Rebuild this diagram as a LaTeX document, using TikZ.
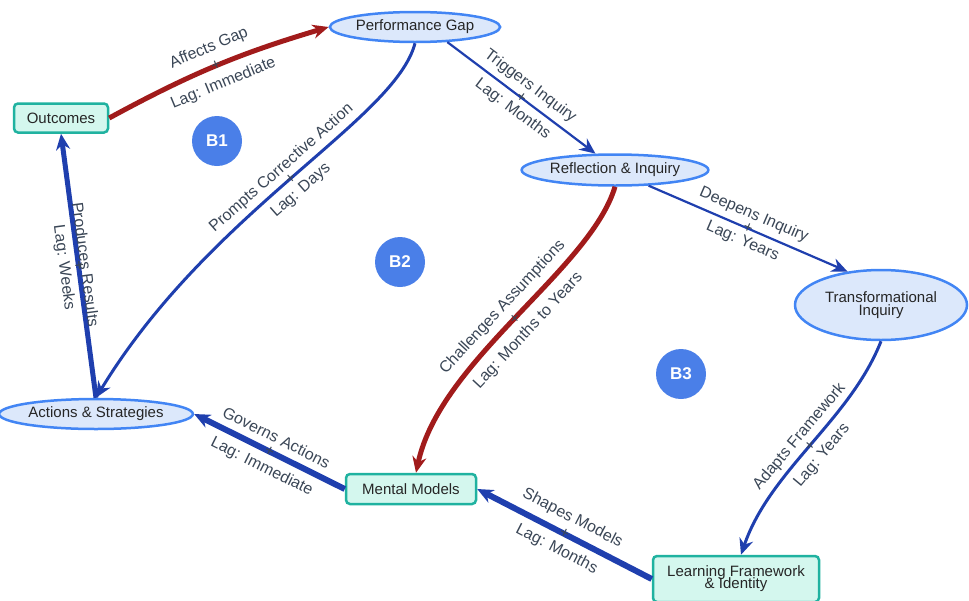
\documentclass[tikz,border=0pt]{standalone}
\usepackage{fontspec}
\setmainfont{Liberation Sans}
\usetikzlibrary{arrows.meta,shapes.geometric}
\definecolor{ebord}{HTML}{4285F4}
\definecolor{efill}{HTML}{DCE8FB}
\definecolor{rbord}{HTML}{20B2A0}
\definecolor{rfill}{HTML}{D4F7EE}
\definecolor{redl}{HTML}{A11B1B}
\definecolor{bluel}{HTML}{1F3FAE}
\definecolor{lab}{HTML}{3A4656}
\definecolor{loopc}{HTML}{4A7FE8}
\tikzset{
  ell/.style={ellipse,draw=ebord,fill=efill,line width=2.5pt,inner sep=1pt,font=\fontsize{15}{16}\selectfont,text=black!85,align=center},
  rbox/.style={rectangle,rounded corners=4pt,draw=rbord,fill=rfill,line width=2.5pt,inner sep=4pt,font=\fontsize{15}{16}\selectfont,text=black!85,align=center},
  loopn/.style={circle,fill=loopc,minimum size=50pt,inner sep=0pt,text=white,font=\fontsize{17}{18}\selectfont\bfseries},
  lb/.style={sloped,font=\fontsize{16}{17}\selectfont,text=lab,inner sep=3pt},
  redarr/.style={draw=redl,-{Stealth[length=16pt,width=14pt]}},
  bluearr/.style={draw=bluel,-{Stealth[length=16pt,width=14pt]}},
}
\begin{document}
\begin{tikzpicture}[x=1pt,y=-1pt]
\useasboundingbox (0,0) rectangle (969,600);
\node[ell,minimum width=160pt,minimum height=30pt] (pg) at (415,27) {Performance Gap};
\node[rbox,minimum width=94pt,minimum height=29pt] (out) at (61,118) {Outcomes};
\node[ell,minimum width=175pt,minimum height=31pt] (ri) at (615,170) {Reflection \& Inquiry};
\node[ell,minimum width=172pt,minimum height=70pt] (ti) at (881,305) {Transformational\\[-3pt]Inquiry};
\node[ell,minimum width=182pt,minimum height=30pt] (as) at (96,414) {Actions \& Strategies};
\node[rbox,minimum width=130pt,minimum height=30pt] (mm) at (411,489) {Mental Models};
\node[rbox,minimum width=166pt,minimum height=46pt] (lf) at (736,579) {Learning Framework\\[-4pt]\& Identity};
\node[loopn] (b1) at (217,141) {B1};
\node[loopn] (b2) at (400,262) {B2};
\node[loopn] (b3) at (681,374) {B3};

\draw[redarr,line width=5pt] (out.east) to[bend left=6]
  node[lb,above=6pt]{Affects Gap} node[lb]{+} node[lb,below=6pt]{Lag: Immediate} (pg.west);
\draw[bluearr,line width=3pt] (pg.south) .. controls (395,120) and (210,210) ..
  node[lb,above=2pt]{Prompts Corrective Action} node[lb]{+} node[lb,below=4pt]{Lag: Days} (as.north);
\draw[bluearr,line width=2.2pt] (pg.-25) --
  node[lb,above=3pt]{Triggers Inquiry} node[lb]{+} node[lb,below=3pt]{Lag: Months} (ri.140);
\draw[bluearr,line width=2.2pt] (ri.-25) --
  node[lb,above=3pt]{Deepens Inquiry} node[lb]{+} node[lb,below=3pt]{Lag: Years} (ti.135);
\draw[redarr,line width=5pt] (ri.south) .. controls (590,270) and (440,360) ..
  node[lb,above=4pt]{Challenges Assumptions} node[lb]{+} node[lb,below=5pt]{Lag: Months to Years} ([xshift=5pt]mm.north);
\draw[bluearr,line width=3pt] (ti.south) .. controls (850,420) and (770,470) ..
  node[lb,above=2pt]{Adapts Framework} node[lb]{+} node[lb,below=4pt]{Lag: Years} ([xshift=5pt]lf.north);
\draw[bluearr,line width=6pt] (lf.west) --
  node[lb,above=4pt]{Shapes Models} node[lb]{+} node[lb,below=4pt]{Lag: Months} (mm.east);
\draw[bluearr,line width=6pt] (mm.west) --
  node[lb,above=4pt]{Governs Actions} node[lb]{+} node[lb,below=4pt]{Lag: Immediate} (as.east);
\draw[draw=bluel,{Stealth[length=16pt,width=14pt]}-,line width=5pt] (out.south) --
  node[lb,above=-4pt]{Produces Results} node[lb]{+} node[lb,below=2pt]{Lag: Weeks} (as.north);
\end{tikzpicture}
\end{document}
